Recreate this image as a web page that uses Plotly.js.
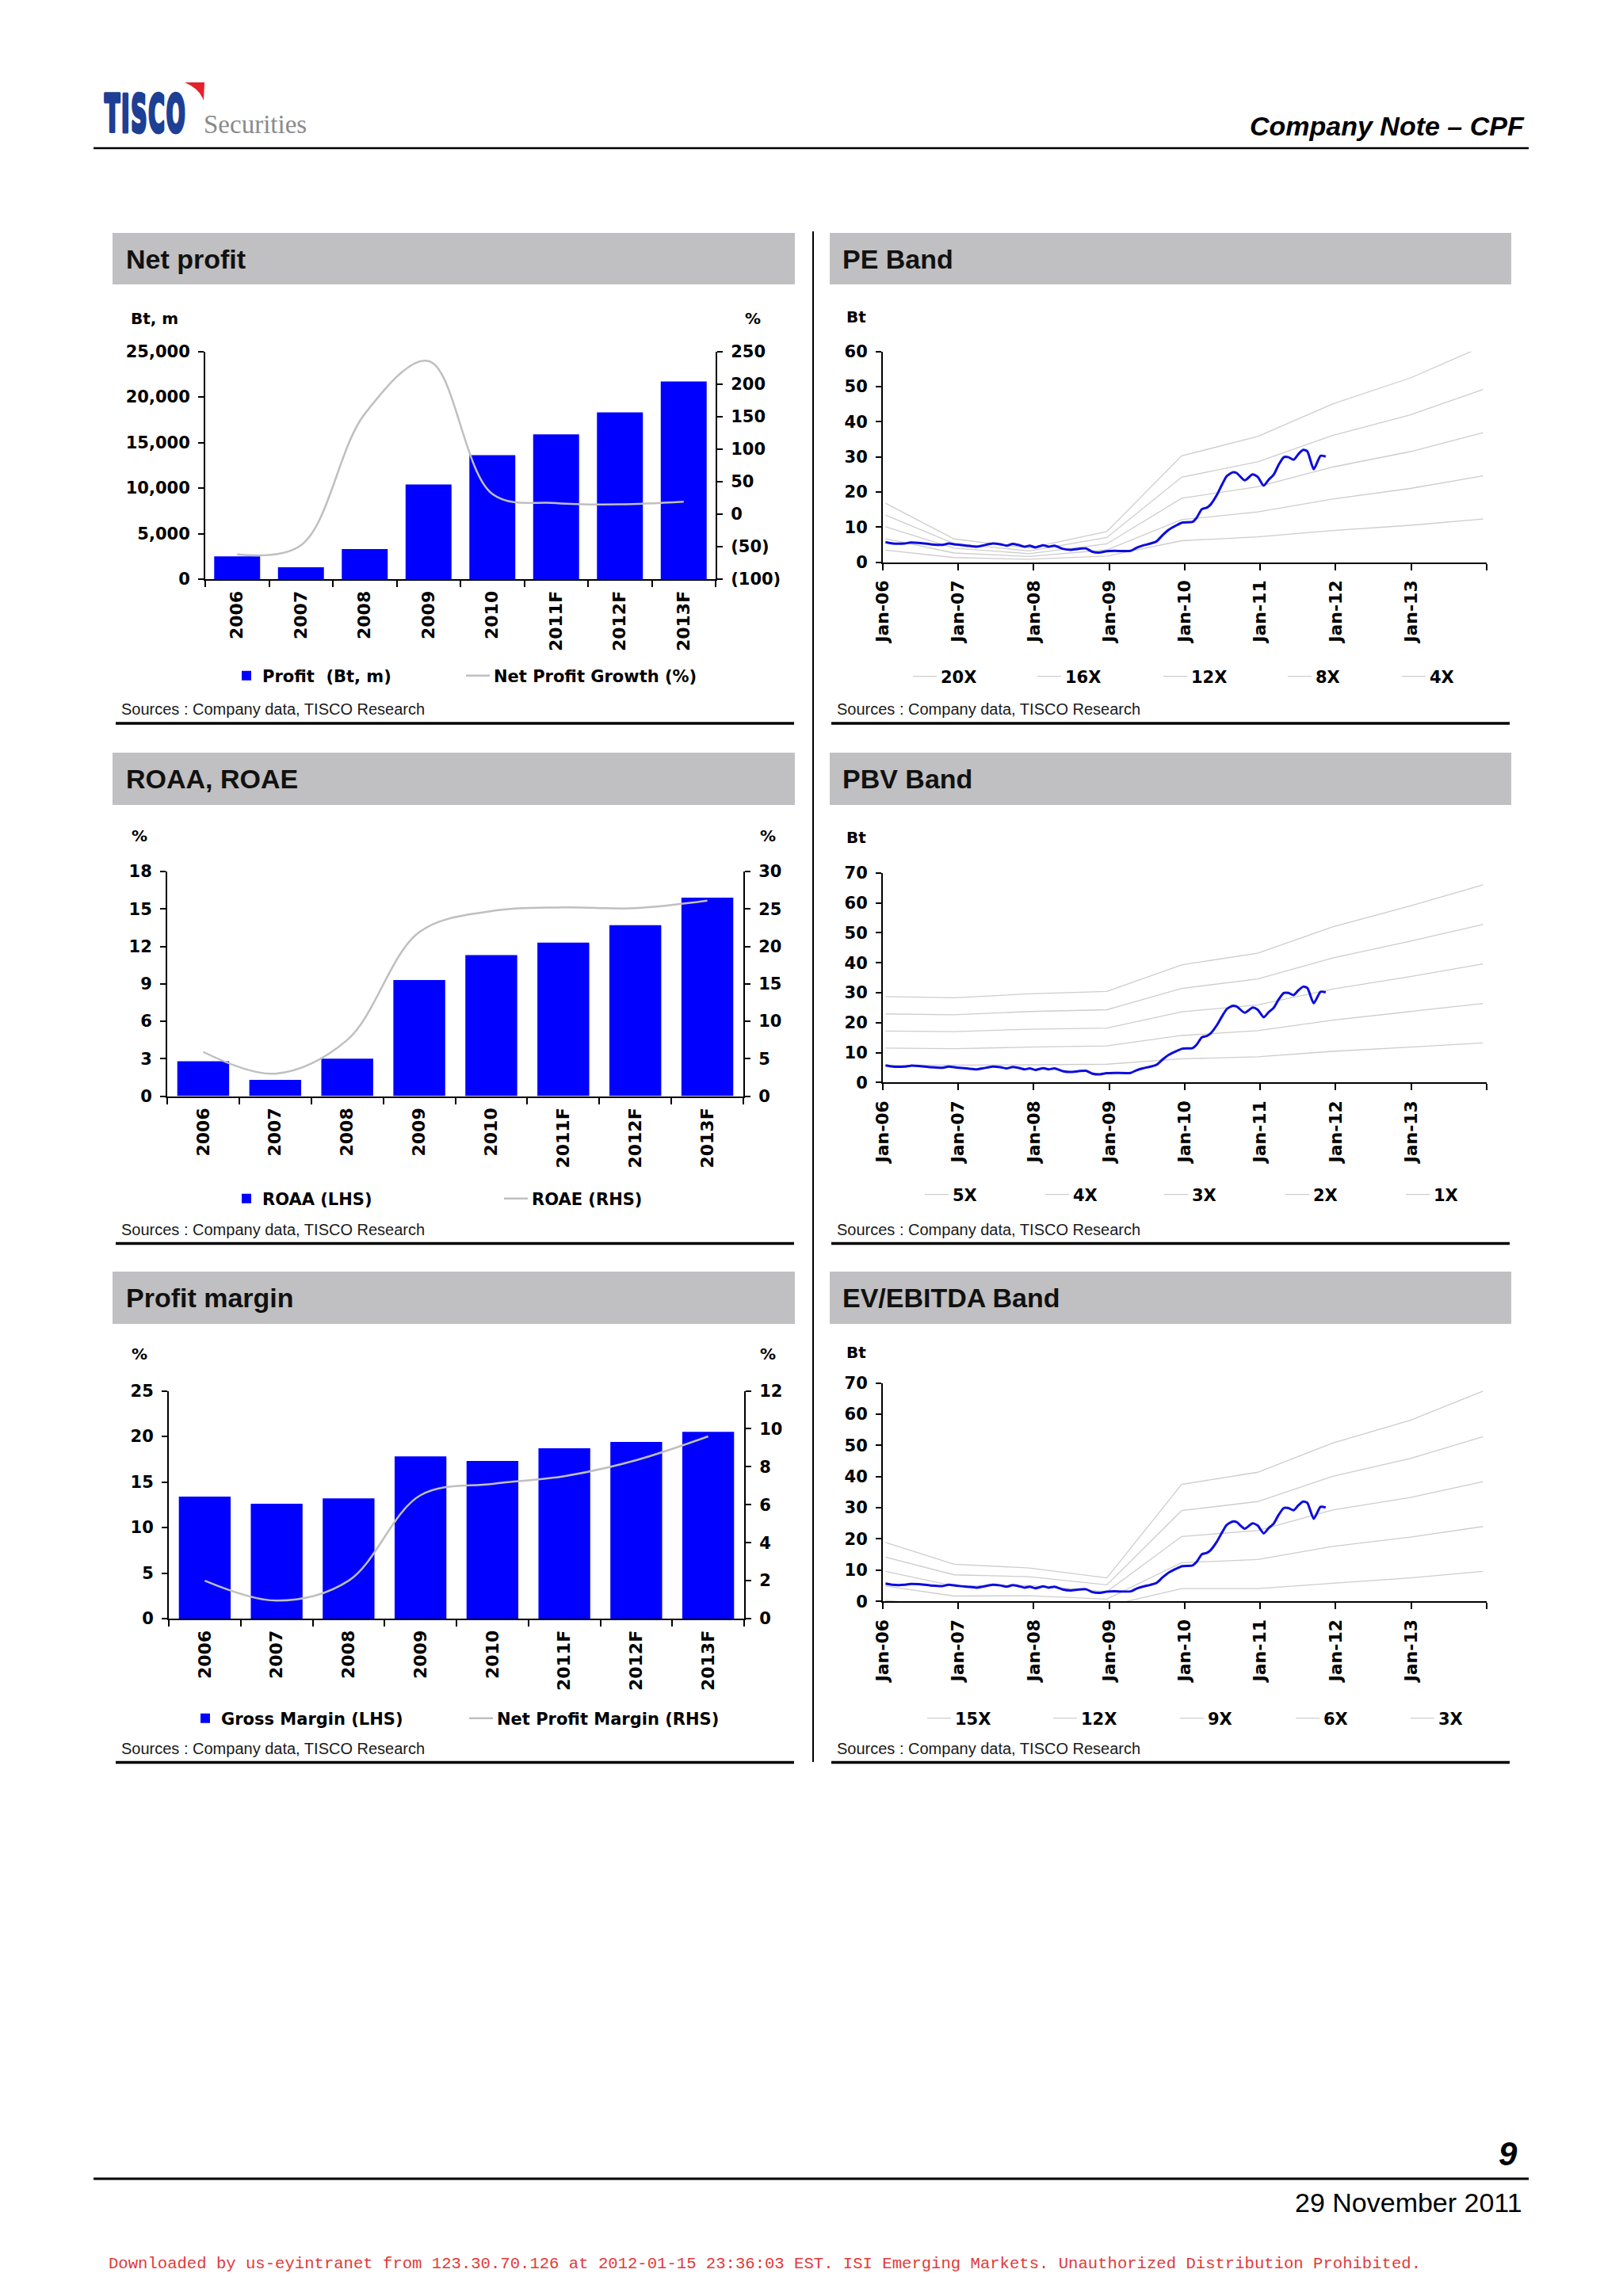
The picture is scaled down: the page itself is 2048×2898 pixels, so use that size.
<!DOCTYPE html>
<html><head><meta charset="utf-8">
<script src="https://cdn.plot.ly/plotly-3.0.1.min.js"></script>
<style>
html,body{margin:0;padding:0;background:#fff;}
#page{position:relative;width:2048px;height:2898px;overflow:hidden;}
#chart{position:absolute;left:0;top:0;width:2048px;height:2898px;}
#logo{position:absolute;left:0;top:0;}
</style></head>
<body><div id="page"><div id="chart"></div>
<svg id="logo" width="420" height="200" xmlns="http://www.w3.org/2000/svg">
<g transform="translate(132,166) scale(0.44,1)">
<text x="0" y="0" font-family="DejaVu Sans" font-weight="bold" font-size="64" letter-spacing="4" fill="#1d3f95" stroke="#1d3f95" stroke-width="5" stroke-linejoin="round">TISCO</text>
</g>
<path d="M233,104 L258,104 L257,127 Q252,112 233,104 Z" fill="#e5202b"/>
<text x="257" y="168" font-family="Liberation Serif" font-size="33" fill="#8a8a8a">Securities</text>
</svg></div>
<script>
// ---------------- DATA ----------------
const years = ['2006','2007','2008','2009','2010','2011F','2012F','2013F'];
const netProfit = [2500, 1300, 3300, 10400, 13600, 15900, 18300, 21700];
const profitGrowth = [-62, -48, 154, 235, 31, 17, 15, 19];
const roaa = [2.8, 1.3, 3.0, 9.3, 11.3, 12.3, 13.7, 15.9];
const roae = [5.9, 3.0, 7.5, 21.9, 24.7, 25.2, 25.1, 26.1];
const grossMargin = [13.4, 12.6, 13.2, 17.8, 17.3, 18.7, 19.4, 20.5];
const netMargin = [2.0, 0.95, 2.0, 6.5, 7.1, 7.5, 8.35, 9.6];

const npLeftTicks = [0, 5000, 10000, 15000, 20000, 25000];
const npLeftText = ['0', '5,000', '10,000', '15,000', '20,000', '25,000'];
const npRightTicks = [-100, -50, 0, 50, 100, 150, 200, 250];
const npRightText = ['(100)', '(50)', '0', '50', '100', '150', '200', '250'];

const yearTickVals = ['2006-01-01','2007-01-01','2008-01-01','2009-01-01','2010-01-01','2011-01-01','2012-01-01','2013-01-01','2014-01-01'];
const yearTickText = ['Jan-06','Jan-07','Jan-08','Jan-09','Jan-10','Jan-11','Jan-12','Jan-13',''];

const priceDates = ['2006-01-14','2006-02-18','2006-04-16','2006-05-15','2006-06-23','2006-08-20','2006-10-17','2006-11-15','2006-12-24',
 '2007-02-11','2007-03-30','2007-04-28','2007-06-16','2007-07-24','2007-08-23','2007-09-21','2007-10-19','2007-11-18','2007-12-13',
 '2008-01-09','2008-02-17','2008-03-13','2008-04-11','2008-05-20','2008-06-28','2008-08-06','2008-09-10','2008-10-09','2008-11-10','2008-12-19',
 '2009-01-27','2009-04-14','2009-05-13','2009-06-11','2009-07-19','2009-08-17','2009-09-16','2009-10-15','2009-11-22','2009-12-21',
 '2010-02-08','2010-02-27','2010-03-25','2010-04-17','2010-05-06','2010-06-04','2010-07-03','2010-07-23','2010-08-21','2010-09-09','2010-10-18','2010-11-25','2010-12-20',
 '2011-01-18','2011-02-11','2011-03-08','2011-03-31','2011-04-25','2011-05-18','2011-06-12','2011-07-05','2011-07-28','2011-08-17','2011-09-17','2011-10-20','2011-11-14'];
const priceVals = [5.7,5.3,5.3,5.6,5.5,5.1,4.9,5.3,5.0,
 4.7,4.4,4.7,5.3,5.1,4.7,5.2,4.9,4.4,4.7,
 4.2,4.8,4.4,4.7,3.8,3.5,3.8,3.9,3.0,2.7,3.1,
 3.2,3.2,4.1,4.7,5.3,5.9,7.7,9.2,10.5,11.3,
 11.5,12.6,15.1,15.5,16.4,19.0,22.4,24.5,25.6,25.4,23.3,25.0,24.3,
 21.8,23.5,25.0,27.7,29.9,29.9,29.2,30.8,32.0,31.6,26.5,30.3,30.1];

const bandDates = ['2006-01-14','2006-12-12','2007-12-10','2008-12-20','2009-12-17','2010-12-20','2011-12-18','2012-12-28','2013-12-14'];

const peNames = ['20X','16X','12X','8X','4X'];
const pe20 = [16.8, 6.6, 4.0, 8.7, 30.3, 35.8, 45.1, 52.5, 61.5];
const pe16 = [13.4, 5.3, 3.2, 7.0, 24.2, 28.6, 36.1, 42.0, 49.2];
const pe12 = [10.1, 4.0, 2.4, 5.2, 18.2, 21.5, 27.1, 31.5, 36.9];
const pe8  = [6.7, 2.6, 1.6, 3.5, 12.1, 14.3, 18.0, 21.0, 24.6];
const pe4  = [3.4, 1.3, 0.8, 1.7, 6.1, 7.2, 9.0, 10.5, 12.3];

const pbvNames = ['5X','4X','3X','2X','1X'];
const pbv5 = [28.7, 28.3, 29.6, 30.4, 39.3, 43.2, 52.0, 59.0, 66.0];
const pbv4 = [22.9, 22.6, 23.7, 24.3, 31.4, 34.6, 41.6, 47.2, 52.8];
const pbv3 = [17.2, 17.0, 17.8, 18.2, 23.6, 25.9, 31.2, 35.4, 39.6];
const pbv2 = [11.5, 11.3, 11.8, 12.2, 15.7, 17.3, 20.8, 23.6, 26.4];
const pbv1 = [5.7, 5.7, 5.9, 6.1, 7.9, 8.6, 10.4, 11.8, 13.2];

const evNames = ['15X','12X','9X','6X','3X'];
const ev15 = [18.9, 11.9, 10.7, 7.5, 37.5, 41.4, 50.8, 58.1, 67.4];
const ev12 = [14.2, 8.5, 7.9, 5.3, 29.1, 32.0, 40.1, 45.8, 52.8];
const ev9  = [9.6, 4.9, 5.1, 3.1, 20.8, 22.7, 29.3, 33.3, 38.4];
const ev6  = [4.9, 1.7, 1.8, 0.7, 12.4, 13.4, 17.6, 20.6, 24.0];
const ev3  = [0.3, -1.7, -1.0, -1.5, 4.1, 4.1, 5.8, 7.5, 9.6];

// ---------------- STYLE / LAYOUT ----------------
const W = 2048, H = 2898;
const px = v => v / W;
const py = v => 1 - v / H;

const BLUE = '#0000ff';
const PRICE = '#0c0cde';
const GREYLINE = '#bfbfbf';
const BANDLINE = '#cdcdcd';
const LBL = {family: 'DejaVu Sans', size: 21, color: '#000', weight: 'bold'};
const XLBL = {family: 'DejaVu Sans', size: 22, color: '#000', weight: 'bold'};
const LEGF = {family: 'DejaVu Sans', size: 21, color: '#000', weight: 'bold'};
const AX = {showline: true, linecolor: '#000', linewidth: 2, ticks: 'outside', tickcolor: '#000', tickwidth: 2,
            showgrid: false, zeroline: false, fixedrange: true};

function catX(l, r, anchor) {
  return Object.assign({}, AX, {domain: [px(l), px(r)], anchor: anchor, type: 'category', range: [-0.5, 7.5],
    tickson: 'boundaries', ticklen: 8, tickangle: -90, tickfont: XLBL, ticklabelstandoff: 4});
}
function dateX(anchor) {
  return Object.assign({}, AX, {domain: [px(1114), px(1876)], anchor: anchor, type: 'date',
    range: ['2006-01-01', '2014-01-01'], tickmode: 'array', tickvals: yearTickVals, ticktext: yearTickText,
    ticklen: 8, tickangle: -90, tickfont: XLBL, ticklabelstandoff: 4});
}
function yAx(b, t, anchor, range, dtick) {
  return Object.assign({}, AX, {domain: [py(b), py(t)], anchor: anchor, range: range, tick0: 0, dtick: dtick,
    ticklen: 7, tickfont: LBL, ticklabelstandoff: 6});
}
function yRight(over, anchor, range, dtick) {
  return Object.assign({}, AX, {overlaying: over, side: 'right', anchor: anchor, range: range, tick0: 0, dtick: dtick,
    ticklen: 7, tickfont: LBL, ticklabelstandoff: 6});
}
function leg(textX, yc) {
  return {x: px(textX - 40), y: py(yc), xref: 'paper', yref: 'paper', xanchor: 'left', yanchor: 'middle',
    orientation: 'h', font: LEGF, bgcolor: 'rgba(0,0,0,0)', borderwidth: 0, itemwidth: 30,
    entrywidthmode: 'pixels', traceorder: 'normal'};
}
const BARSTYLE = {color: BLUE};

const traces = [];
// Net profit
traces.push({type: 'bar', x: years, y: netProfit, xaxis: 'x', yaxis: 'y', name: 'Profit \u00a0(Bt, m)',
  marker: BARSTYLE, legend: 'legend', legendwidth: 247});
traces.push({type: 'scatter', mode: 'lines', x: years, y: profitGrowth, xaxis: 'x', yaxis: 'y2',
  name: 'Net Profit Growth (%)', line: {color: GREYLINE, width: 2.5, shape: 'spline', smoothing: 1}, legend: 'legend'});
// PE band
const peSeries = [pe20, pe16, pe12, pe8, pe4];
const peW = [112, 114, 112, 99, 100];
peSeries.forEach((s, i) => traces.push({type: 'scatter', mode: 'lines', x: bandDates, y: s, xaxis: 'x2', yaxis: 'y3',
  name: peNames[i], line: {color: BANDLINE, width: 1.3}, legend: 'legend2', legendwidth: peW[i]}));
traces.push({type: 'scatter', mode: 'lines', x: priceDates, y: priceVals, xaxis: 'x2', yaxis: 'y3', showlegend: false,
  line: {color: PRICE, width: 3, shape: 'spline', smoothing: 0.6}});
// ROAA / ROAE
traces.push({type: 'bar', x: years, y: roaa, xaxis: 'x3', yaxis: 'y4', name: 'ROAA (LHS)',
  marker: BARSTYLE, legend: 'legend3', legendwidth: 295});
traces.push({type: 'scatter', mode: 'lines', x: years, y: roae, xaxis: 'x3', yaxis: 'y5', name: 'ROAE (RHS)',
  line: {color: GREYLINE, width: 2.5, shape: 'spline', smoothing: 1}, legend: 'legend3'});
// PBV band
const pbvSeries = [pbv5, pbv4, pbv3, pbv2, pbv1];
const pbvW = [107, 105, 108, 107, 100];
pbvSeries.forEach((s, i) => traces.push({type: 'scatter', mode: 'lines', x: bandDates, y: s, xaxis: 'x4', yaxis: 'y6',
  name: pbvNames[i], line: {color: BANDLINE, width: 1.3}, legend: 'legend4', legendwidth: pbvW[i]}));
traces.push({type: 'scatter', mode: 'lines', x: priceDates, y: priceVals, xaxis: 'x4', yaxis: 'y6', showlegend: false,
  line: {color: PRICE, width: 3, shape: 'spline', smoothing: 0.6}});
// Profit margin
traces.push({type: 'bar', x: years, y: grossMargin, xaxis: 'x5', yaxis: 'y7', name: 'Gross Margin (LHS)',
  marker: BARSTYLE, legend: 'legend5', legendwidth: 303});
traces.push({type: 'scatter', mode: 'lines', x: years, y: netMargin, xaxis: 'x5', yaxis: 'y8', name: 'Net Profit Margin (RHS)',
  line: {color: GREYLINE, width: 2.5, shape: 'spline', smoothing: 1}, legend: 'legend5'});
// EV/EBITDA band
const evSeries = [ev15, ev12, ev9, ev6, ev3];
const evW = [114, 115, 101, 100, 100];
evSeries.forEach((s, i) => traces.push({type: 'scatter', mode: 'lines', x: bandDates, y: s, xaxis: 'x6', yaxis: 'y9',
  name: evNames[i], line: {color: BANDLINE, width: 1.3}, legend: 'legend6', legendwidth: evW[i]}));
traces.push({type: 'scatter', mode: 'lines', x: priceDates, y: priceVals, xaxis: 'x6', yaxis: 'y9', showlegend: false,
  line: {color: PRICE, width: 3, shape: 'spline', smoothing: 0.6}});

// decorations
const shapes = [];
function hline(x0, x1, y, w) { shapes.push({type: 'line', xref: 'paper', yref: 'paper', x0: px(x0), x1: px(x1), y0: py(y), y1: py(y), line: {color: '#000', width: w}}); }
function rect(x0, y0, x1, y1) { shapes.push({type: 'rect', xref: 'paper', yref: 'paper', x0: px(x0), x1: px(x1), y0: py(y1), y1: py(y0), fillcolor: '#c0bfc1', line: {width: 0}, layer: 'below'}); }
hline(118, 1929, 187, 2.5);
hline(118, 1929, 2750, 3);
shapes.push({type: 'line', xref: 'paper', yref: 'paper', x0: px(1026), x1: px(1026), y0: py(292), y1: py(2224), line: {color: '#000', width: 2}});
[[294, 359], [950, 1016], [1605, 1671]].forEach(r => { rect(142, r[0], 1003, r[1]); rect(1047, r[0], 1907, r[1]); });
[913, 1569.5, 2224.5].forEach(y => { hline(146, 1002, y, 3.5); hline(1049, 1905, y, 3.5); });

const ann = [];
function txt(t, x, y, font, xanchor) {
  ann.push({text: t, x: px(x), y: py(y), xref: 'paper', yref: 'paper', xanchor: xanchor || 'left', yanchor: 'middle', showarrow: false, font: font});
}
const TITLEF = {family: 'Liberation Sans', size: 34, color: '#111', weight: 'bold'};
const SRCF = {family: 'Liberation Sans', size: 20, color: '#1a1a1a'};
const AXTF = {family: 'DejaVu Sans', size: 20, color: '#000', weight: 'bold'};
[['Net profit', 157, 327], ['PE Band', 1061, 327], ['ROAA, ROAE', 157, 983], ['PBV Band', 1061, 983],
 ['Profit margin', 157, 1638], ['EV/EBITDA Band', 1061, 1638]].forEach(a => txt(a[0], a[1], a[2], TITLEF));
[[151, 895], [1054, 895], [151, 1552], [1054, 1552], [151, 2207], [1054, 2207]].forEach(a =>
  txt('Sources : Company data, TISCO Research', a[0], a[1], SRCF));
txt('Bt, m', 163, 402, AXTF); txt('%', 950, 402, AXTF, 'center'); txt('Bt', 1066, 400, AXTF);
txt('%', 176, 1055, AXTF, 'center'); txt('%', 969, 1055, AXTF, 'center'); txt('Bt', 1066, 1057, AXTF);
txt('%', 176, 1709, AXTF, 'center'); txt('%', 969, 1709, AXTF, 'center'); txt('Bt', 1066, 1707, AXTF);
txt('Company Note \u2013 CPF', 1926, 159, {family: 'Liberation Sans', size: 34, color: '#000', weight: 'bold', style: 'italic'}, 'right');
txt('9', 1917, 2718, {family: 'Liberation Sans', size: 42, color: '#000', weight: 'bold', style: 'italic'}, 'right');
txt('29 November 2011', 1923, 2780, {family: 'Liberation Sans', size: 34, color: '#000'}, 'right');
txt('Downloaded by us-eyintranet from 123.30.70.126 at 2012-01-15 23:36:03 EST. ISI Emerging Markets. Unauthorized Distribution Prohibited.',
  135, 2857, {family: 'Liberation Mono', size: 20.6, color: '#e23a3a'});

const layout = {
  width: W, height: H, margin: {l: 0, r: 0, t: 0, b: 0, autoexpand: false},
  paper_bgcolor: '#fff', plot_bgcolor: 'rgba(0,0,0,0)', bargap: 0.28, showlegend: true,
  font: {family: 'DejaVu Sans', color: '#000'},
  xaxis: catX(259, 903, 'y'),
  yaxis: Object.assign(yAx(731, 443.5, 'x', [0, 25000], 5000), {tickmode: 'array', tickvals: npLeftTicks, ticktext: npLeftText}),
  yaxis2: Object.assign(yRight('y', 'x', [-100, 250], 50), {tickmode: 'array', tickvals: npRightTicks, ticktext: npRightText}),
  xaxis2: dateX('y3'),
  yaxis3: yAx(709.5, 443.8, 'x2', [0, 60], 10),
  xaxis3: catX(211, 938, 'y4'),
  yaxis4: yAx(1383.5, 1100, 'x3', [0, 18], 3),
  yaxis5: yRight('y4', 'x3', [0, 30], 5),
  xaxis4: dateX('y6'),
  yaxis6: yAx(1366.3, 1101.8, 'x4', [0, 70], 10),
  xaxis5: catX(213, 939, 'y7'),
  yaxis7: yAx(2043, 1755.5, 'x5', [0, 25], 5),
  yaxis8: yRight('y7', 'x5', [0, 12], 2),
  xaxis6: dateX('y9'),
  yaxis9: yAx(2021.2, 1745.7, 'x6', [0, 70], 10),
  legend: leg(331, 853),
  legend2: leg(1187, 854),
  legend3: leg(331, 1513),
  legend4: leg(1202, 1508),
  legend5: leg(279, 2169),
  legend6: leg(1205, 2169),
  shapes: shapes,
  annotations: ann
};
Plotly.newPlot('chart', traces, layout, {staticPlot: true, displayModeBar: false});
</script></body></html>
